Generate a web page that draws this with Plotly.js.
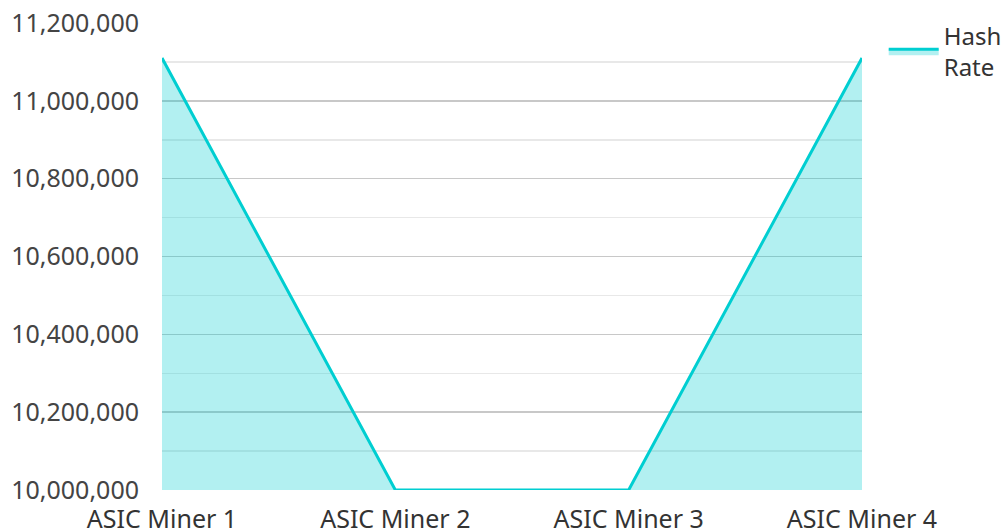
<!DOCTYPE html>
<html><head><meta charset="utf-8">
<script src="https://cdn.plot.ly/plotly-3.0.1.min.js"></script>
<style>html,body{margin:0;padding:0;background:#fff}#chart{width:1007px;height:532px}</style>
</head><body><div id="chart"></div>
<script>
const categories = ["ASIC Miner 1", "ASIC Miner 2", "ASIC Miner 3", "ASIC Miner 4"];
const hashRate = [11110000, 10000000, 10000000, 11110000];
const seriesName = "Hash<br>Rate";

Plotly.newPlot("chart", [{
  type: "scatter", mode: "lines", x: categories, y: hashRate, name: seriesName,
  fill: "tozeroy", fillcolor: "rgba(0,206,209,0.3)",
  line: {color: "#00CED1", width: 3}
}], {
  width: 1007, height: 532,
  margin: {l: 162, r: 145, t: 23, b: 42, autoexpand: false},
  paper_bgcolor: "#fff", plot_bgcolor: "#fff",
  font: {family: "Noto Sans, Open Sans, sans-serif", size: 25, color: "#444"},
  showlegend: true,
  legend: {x: 1.031, xanchor: "left", y: 1.02, yanchor: "top", itemwidth: 50, font: {size: 24, color: "#333"}},
  xaxis: {range: [0, 3], showgrid: false, zeroline: false, showline: false, ticks: "", ticklabelstandoff: 12, tickfont: {size: 25, color: "#333"}},
  yaxis: {range: [10000000, 11200000], dtick: 200000, tickformat: ",d", showgrid: true, gridcolor: "#c8c8c8", gridwidth: 1.5,
    zeroline: false, showline: false, ticks: "", ticklabelstandoff: 22, tickfont: {size: 25, color: "#444"},
    minor: {dtick: 100000, showgrid: true, gridcolor: "#e8e8e8", gridwidth: 1.5}}
}, {displayModeBar: false, staticPlot: true});
</script></body></html>
